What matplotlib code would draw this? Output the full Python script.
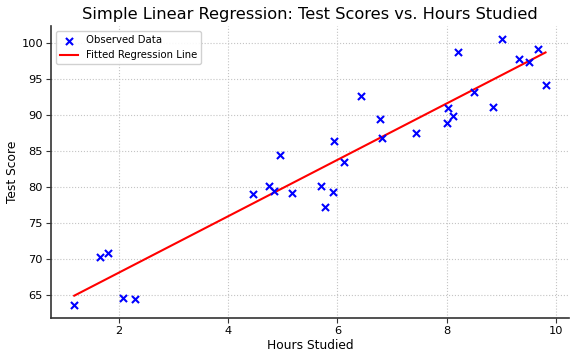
import numpy as np
import matplotlib
matplotlib.use('Agg')
import matplotlib.pyplot as plt

# Hours studied vs. test score
hours = [1.18, 1.65, 1.79, 2.07, 2.30, 4.45, 4.74, 4.83, 4.94, 5.16,
         5.70, 5.77, 5.91, 5.94, 6.12, 6.43, 6.77, 6.81, 7.44, 8.01,
         8.03, 8.12, 8.20, 8.50, 8.84, 9.02, 9.33, 9.50, 9.67, 9.81]
scores = [63.6, 70.3, 70.8, 64.6, 64.4, 79.0, 80.1, 79.4, 84.4, 79.1,
          80.1, 77.2, 79.3, 86.4, 83.4, 92.6, 89.4, 86.8, 87.5, 88.9,
          90.9, 89.9, 98.7, 93.2, 91.1, 100.5, 97.8, 97.4, 99.2, 94.1]

x = np.array(hours)
y = np.array(scores)
slope, intercept = np.polyfit(x, y, 1)
fit = slope * x + intercept

fig = plt.figure(figsize=(5.76, 3.57), dpi=100)
ax = fig.add_axes([0.088, 0.109, 0.9, 0.818])

ax.scatter(x, y, marker='x', color='blue', s=26, linewidths=1.5,
           label='Observed Data', zorder=3)
ax.plot(x, fit, color='red', linewidth=1.5, label='Fitted Regression Line', zorder=2)

ax.set_title('Simple Linear Regression: Test Scores vs. Hours Studied', fontsize=11.7, pad=5)
ax.set_xlabel('Hours Studied', fontsize=8.8, labelpad=2)
ax.set_ylabel('Test Score', fontsize=8.8, labelpad=2)
ax.tick_params(labelsize=8.2, length=3.5, pad=2, color='#333333')

ax.grid(True, linestyle=':', color='#c4c4c4', linewidth=0.8)
ax.set_axisbelow(True)
for side in ['top', 'right']:
    ax.spines[side].set_visible(False)
for side in ['left', 'bottom']:
    ax.spines[side].set_color('#333333')
    ax.spines[side].set_linewidth(1.2)

ax.legend(loc='upper left', fontsize=7.3, framealpha=0.9, handlelength=1.8)

fig.savefig('out.png', dpi=100)
